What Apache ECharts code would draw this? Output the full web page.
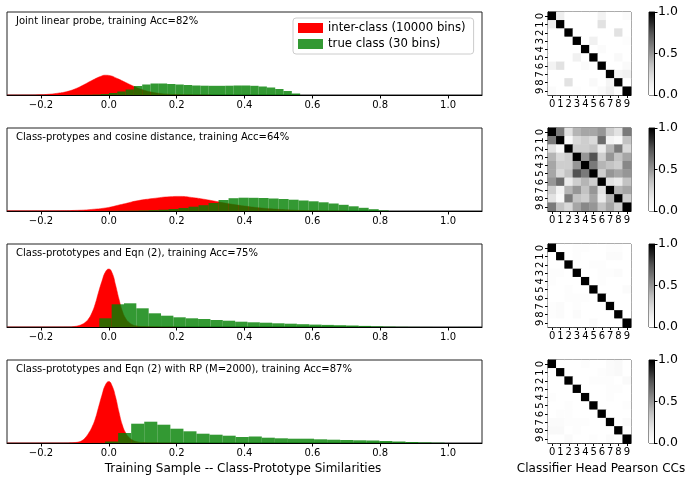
<!DOCTYPE html>
<html>
<head>
<meta charset="utf-8">
<script src="https://cdn.jsdelivr.net/npm/echarts@6/dist/echarts.min.js"></script>
<style>
  html, body { margin: 0; padding: 0; background: #fff; }
  #chart { width: 690px; height: 485px; }
</style>
</head>
<body>
<div id="chart"></div>
<script>
// panel captions and shared ticks
const panelTitles = [
    'Joint linear probe, training Acc=82%',
    'Class-protypes and cosine distance, training Acc=64%',
    'Class-prototypes and Eqn (2), training Acc=75%',
    'Class-prototypes and Eqn (2) with RP (M=2000), training Acc=87%'
];
const xTicks = [-0.2, 0.0, 0.2, 0.4, 0.6, 0.8, 1.0];
const classLabels = ['0', '1', '2', '3', '4', '5', '6', '7', '8', '9'];
const cbarTicks = [0, 0.5, 1];

// inter-class similarity density (x, height)
const red1 = [[-0.3, 0], [-0.25, 0.05], [-0.2, 0.3], [-0.175, 0.8], [-0.15, 1.8], [-0.125, 3.3], [-0.1, 6],
    [-0.075, 10], [-0.05, 14.5], [-0.025, 18.5], [-0.01, 19.8], [0, 19.6], [0.025, 16.5], [0.05, 12.5],
    [0.075, 8.5], [0.1, 5.2], [0.125, 3], [0.15, 1.6], [0.175, 0.8], [0.2, 0.4], [0.25, 0.1], [0.3, 0]];
const red2 = [[-0.3, 0.1], [-0.2, 0.15], [-0.15, 0.3], [-0.1, 0.6], [-0.05, 1.6], [0, 3.6], [0.03, 6],
    [0.05, 7.5], [0.08, 10], [0.13, 12.5], [0.18, 14.3], [0.21, 14.6], [0.25, 13.3], [0.28, 11.8],
    [0.31, 10], [0.35, 7.5], [0.4, 5], [0.45, 3], [0.5, 1.7], [0.55, 0.8], [0.6, 0.3], [0.7, 0]];
const red3 = [[-0.3, 0], [-0.12, 0.1], [-0.1, 0.6], [-0.09, 1.3], [-0.08, 2.5], [-0.07, 4.5], [-0.06, 8],
    [-0.05, 14], [-0.04, 23], [-0.03, 35], [-0.02, 46], [-0.01, 55], [0, 58], [0.01, 54], [0.02, 42],
    [0.03, 28], [0.04, 16], [0.05, 8.5], [0.06, 4.5], [0.07, 2.3], [0.08, 1.2], [0.1, 0.4], [0.15, 0.1], [0.2, 0]];
const red4 = [[-0.3, 0], [-0.12, 0.1], [-0.1, 0.5], [-0.09, 1], [-0.08, 2.2], [-0.07, 5], [-0.06, 9.5],
    [-0.05, 15.5], [-0.04, 24], [-0.03, 36], [-0.02, 48], [-0.01, 58], [0, 61.5], [0.01, 57], [0.02, 46],
    [0.03, 31], [0.04, 18], [0.05, 10], [0.06, 5.5], [0.07, 3], [0.08, 1.6], [0.1, 0.5], [0.15, 0.1], [0.2, 0]];

// true-class histograms: first bin edge, bin width, 30 heights
const green1Start = -0.171, green1Width = 0.0245;
const green1 = [0, 0, 0.1, 0.2, 0.3, 0.5, 1, 2, 3.5, 5.5, 9, 10.5, 11.5, 11.5, 11, 10.5, 10, 9.5, 9.3, 9.2,
    9.2, 9.3, 9.5, 9.5, 9.2, 8.5, 7.5, 6, 4, 1.5];
const green2Start = -0.06, green2Width = 0.0295;
const green2 = [0, 0.1, 0.2, 0.3, 0.4, 0.6, 0.9, 1.3, 2, 3, 4.3, 5.8, 8, 11, 12.8, 13.3, 13.2, 13, 12.5, 12,
    11.3, 10.5, 9.7, 8.7, 7.5, 6.2, 4.7, 3.2, 1.8, 0.6];
const green3Start = -0.028, green3Width = 0.0364;
const green3 = [8.7, 22.7, 23.7, 18.7, 13.7, 11.3, 9.7, 8.7, 8, 7, 6.3, 5.3, 4.7, 4.3, 3.7, 3.3, 2.8, 2.4,
    2.1, 1.8, 1.5, 1.1, 0.7, 0.4, 0.2, 0.1, 0.05, 0, 0, 0.05];
const green4Start = -0.165, green4Width = 0.0385;
const green4 = [0, 0, 0, 0.1, 1.5, 10, 19.3, 21.3, 18.3, 14.3, 11.7, 9.3, 8.3, 7.3, 6, 6.5, 5.3, 4.7, 4.3,
    4.3, 3.7, 3.3, 3, 2.7, 2.5, 2, 1.5, 1, 0.6, 0.3];

// classifier head Pearson correlation matrices
const cc1 = [
    [1, .13, 0, 0, 0, 0, .1, 0, 0, .03],
    [.13, 1, 0, 0, 0, 0, .2, 0, 0, 0],
    [0, 0, 1, 0, 0, 0, 0, 0, .2, 0],
    [0, 0, 0, 1, 0, .12, 0, 0, 0, .02],
    [0, 0, 0, 0, 1, 0, .03, 0, 0, 0],
    [0, 0, 0, .12, 0, 1, 0, 0, .05, 0],
    [.1, .2, 0, 0, .03, 0, 1, 0, 0, .04],
    [0, 0, 0, 0, 0, 0, 0, 1, .08, .12],
    [0, 0, .2, 0, 0, .05, 0, .08, 1, 0],
    [.03, 0, 0, .02, 0, 0, .04, .12, 0, 1]
];
const cc2 = [
    [1, .6, .2, .4, .45, .45, .5, .3, .2, .6],
    [.6, 1, .05, .25, .3, .25, .65, .1, .05, .35],
    [.2, .05, 1, .3, .3, .35, .15, .4, .6, .25],
    [.4, .25, .3, 1, .5, .75, .3, .5, .35, .45],
    [.45, .3, .3, .5, 1, .6, .4, .35, .3, .55],
    [.45, .25, .35, .75, .6, 1, .3, .5, .45, .5],
    [.5, .65, .15, .3, .4, .3, 1, .2, .15, .35],
    [.3, .1, .4, .5, .35, .5, .2, 1, .4, .45],
    [.2, .05, .6, .35, .3, .45, .15, .4, 1, .3],
    [.6, .35, .25, .45, .55, .5, .35, .45, .3, 1]
];
const cc3 = [
    [1, 0, 0, .02, .02, 0, 0, .02, .02, 0],
    [0, 1, 0, .02, 0, 0, 0, .03, .03, 0],
    [0, 0, 1, 0, 0, .02, .02, 0, 0, 0],
    [.02, .02, 0, 1, 0, 0, .02, .02, .03, 0],
    [.02, 0, 0, 0, 1, 0, .02, 0, 0, 0],
    [0, 0, .02, 0, 0, 1, 0, 0, 0, .03],
    [0, 0, .02, .02, .02, 0, 1, 0, 0, 0],
    [.02, .03, 0, .02, 0, 0, 0, 1, 0, 0],
    [.02, .03, 0, .03, 0, 0, 0, 0, 1, 0],
    [0, 0, 0, 0, 0, .03, 0, 0, 0, 1]
];
const cc4 = [
    [1, 0, 0, 0, .02, 0, 0, .03, .05, 0],
    [0, 1, 0, 0, 0, 0, .02, .03, .05, 0],
    [0, 0, 1, 0, 0, .02, .02, .02, 0, .04],
    [0, 0, 0, 1, 0, 0, 0, .02, .02, 0],
    [.02, 0, 0, 0, 1, 0, 0, .02, 0, 0],
    [0, 0, .02, 0, 0, 1, 0, 0, 0, .02],
    [0, .02, .02, 0, 0, 0, 1, 0, 0, 0],
    [.03, .03, .02, .02, .02, 0, 0, 1, 0, .03],
    [.05, .05, 0, .02, 0, 0, 0, 0, 1, 0],
    [0, 0, .04, 0, 0, .02, 0, .03, 0, 1]
];

const reds = [red1, red2, red3, red4];
const greens = [
    { start: green1Start, width: green1Width, h: green1 },
    { start: green2Start, width: green2Width, h: green2 },
    { start: green3Start, width: green3Width, h: green3 },
    { start: green4Start, width: green4Width, h: green4 }
];
const ccs = [cc1, cc2, cc3, cc4];

const greys = ['#ffffff', '#f0f0f0', '#d9d9d9', '#bdbdbd', '#969696', '#737373', '#525252', '#252525', '#000000'];
const font = 'DejaVu Sans';
const tops = [12, 128, 244, 360];
const H = 83;

const grid = [], xAxis = [], yAxis = [], series = [], heatIdx = [];
const frame = { show: true, borderColor: '#222', borderWidth: 1, backgroundColor: 'transparent' };

const renderBin = (params, api) => {
    const p0 = api.coord([api.value(0), api.value(2)]);
    const p1 = api.coord([api.value(1), 0]);
    return {
        type: 'rect',
        shape: { x: p0[0], y: p0[1], width: p1[0] - p0[0], height: p1[1] - p0[1] },
        style: { fill: '#008000', opacity: 0.8 }
    };
};

tops.forEach((top, i) => {
    const g = i * 3;
    // histogram panel
    grid.push(Object.assign({ left: 7, width: 475, top: top, height: H }, frame));
    xAxis.push({
        type: 'value', gridIndex: g, min: -0.3, max: 1.1,
        axisLine: { show: true, onZero: false, lineStyle: { color: '#000', width: 1 } },
        axisTick: { show: true, length: 3.5, customValues: xTicks, lineStyle: { color: '#000' } },
        axisLabel: { customValues: xTicks, fontSize: 10, color: '#000', fontFamily: font, margin: 5,
            formatter: v => (v < 0 ? '\u2212' : '') + Math.abs(v).toFixed(1) },
        splitLine: { show: false }
    });
    yAxis.push({ type: 'value', gridIndex: g, min: 0, max: H, show: false });
    series.push({
        name: 'inter-class (10000 bins)', type: 'line', xAxisIndex: g, yAxisIndex: g, z: 1,
        data: reds[i], smooth: true, showSymbol: false, clip: true,
        lineStyle: { color: '#ff0000', width: 0.5 },
        itemStyle: { color: '#ff0000' },
        areaStyle: { color: '#ff0000', opacity: 1 }
    });
    const gb = greens[i];
    series.push({
        name: 'true class (30 bins)', type: 'custom', xAxisIndex: g, yAxisIndex: g, clip: true, z: 5,
        itemStyle: { color: '#008000', opacity: 0.8 },
        renderItem: renderBin,
        data: gb.h.map((h, k) => [gb.start + k * gb.width, gb.start + (k + 1) * gb.width, h])
    });

    // correlation heatmap
    grid.push(Object.assign({ left: 548, width: 83, top: top, height: H }, frame));
    xAxis.push({
        type: 'category', gridIndex: g + 1, data: classLabels,
        axisLine: { show: true, lineStyle: { color: '#000' } },
        axisTick: { show: true, alignWithLabel: true, length: 3, lineStyle: { color: '#000' } },
        axisLabel: { interval: 0, fontSize: 10, color: '#000', fontFamily: font, margin: 4 },
        splitLine: { show: false }
    });
    yAxis.push({
        type: 'category', gridIndex: g + 1, data: classLabels, inverse: true,
        axisLine: { show: true, lineStyle: { color: '#000' } },
        axisTick: { show: true, alignWithLabel: true, length: 3, lineStyle: { color: '#000' } },
        axisLabel: { interval: 0, rotate: 90, fontSize: 10, color: '#000', fontFamily: font, margin: 3 },
        splitLine: { show: false }
    });
    const cells = [];
    ccs[i].forEach((row, r) => row.forEach((v, c) => cells.push([c, r, v])));
    heatIdx.push(series.length);
    series.push({ type: 'heatmap', xAxisIndex: g + 1, yAxisIndex: g + 1, data: cells, itemStyle: { borderWidth: 0 } });

    // colour bar
    grid.push(Object.assign({ left: 649, width: 5, top: top, height: H }, frame));
    xAxis.push({ type: 'category', gridIndex: g + 2, data: [''], show: false });
    yAxis.push({
        type: 'value', gridIndex: g + 2, min: 0, max: 1, interval: 0.5, position: 'right',
        axisLine: { show: true, lineStyle: { color: '#000' } },
        axisTick: { show: true, length: 3.5, lineStyle: { color: '#000' } },
        axisLabel: { fontSize: 12.5, color: '#000', fontFamily: font, margin: 4, formatter: v => v.toFixed(1) },
        splitLine: { show: false }
    });
    series.push({
        type: 'bar', xAxisIndex: g + 2, yAxisIndex: g + 2, data: [cbarTicks[2]], barWidth: '100%',
        silent: true,
        itemStyle: {
            color: new echarts.graphic.LinearGradient(0, 0, 0, 1,
                greys.slice().reverse().map((c, k) => ({ offset: k / (greys.length - 1), color: c })))
        }
    });
});

const chart = echarts.init(document.getElementById('chart'));
chart.setOption({
    animation: false,
    textStyle: { fontFamily: font },
    title: panelTitles.map((t, i) => ({
        text: t, left: 16, top: tops[i] + 4, padding: 0,
        textStyle: { fontSize: 10, fontWeight: 'normal', color: '#000', fontFamily: font }
    })),
    legend: {
        data: ['inter-class (10000 bins)', 'true class (30 bins)'],
        orient: 'vertical', left: 293, top: 18, icon: 'rect',
        itemWidth: 25, itemHeight: 10, itemGap: 4,
        padding: [4, 8, 4, 5], borderColor: '#ccc', borderWidth: 1, borderRadius: 3,
        backgroundColor: 'rgba(255,255,255,0.8)',
        textStyle: { fontSize: 11.7, color: '#000', fontFamily: font }
    },
    visualMap: [{
        type: 'continuous', show: false, min: 0, max: 1, seriesIndex: heatIdx,
        inRange: { color: greys }
    }],
    grid: grid, xAxis: xAxis, yAxis: yAxis, series: series,
    graphic: [
        { type: 'text', x: 243, y: 469, style: { text: 'Training Sample -- Class-Prototype Similarities',
            align: 'center', verticalAlign: 'middle', font: '12px "DejaVu Sans"', fill: '#000' } },
        { type: 'text', x: 601, y: 469, style: { text: 'Classifier Head Pearson CCs',
            align: 'center', verticalAlign: 'middle', font: '12px "DejaVu Sans"', fill: '#000' } }
    ]
});
</script>
</body>
</html>
